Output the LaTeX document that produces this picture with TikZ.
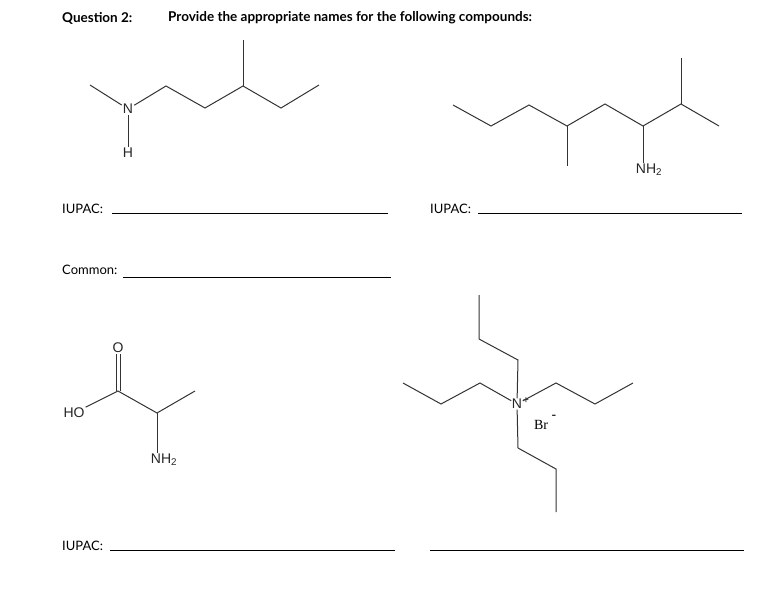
\documentclass[tikz,border=0pt]{standalone}
\usepackage{fontspec}
\setmainfont{Lato}
\newfontfamily\atomf{Liberation Sans}
\newfontfamily\brf{Liberation Serif}
\begin{document}
\begin{tikzpicture}[x=1pt,y=-1pt,
  bond/.style={line width=1pt,draw=black!80},
  lbl/.style={font=\fontsize{13}{15}\selectfont,anchor=west,inner sep=0pt},
  atom/.style={font=\atomf\fontsize{14}{16}\selectfont,inner sep=1pt,text=black!85},
  ans/.style={line width=0.8pt}]
\useasboundingbox (0,0) rectangle (777,589);
\node[lbl,font=\bfseries\fontsize{13.5}{16}\selectfont] (q) at (62,18) {Question 2:};
\node[lbl,font=\bfseries\fontsize{13.5}{16}\selectfont] (p) at (168,18) {Provide the appropriate names for the following compounds:};
% molecule 1
\node[atom] (n1) at (128,109) {N};
\node[atom] (h1) at (128,153) {H};
\coordinate (m0) at (90,85);
\coordinate (a1) at (166,86); \coordinate (a2) at (205,108); \coordinate (a3) at (243,86);
\coordinate (a3t) at (243,40); \coordinate (a4) at (281,108); \coordinate (a5) at (319,85);
\draw[bond] (m0) -- (n1) -- (a1) -- (a2) -- (a3) -- (a4) -- (a5);
\draw[bond] (a3) -- (a3t);
\draw[bond] (n1) -- (h1);
% molecule 2
\coordinate (b0) at (453,105); \coordinate (b1) at (491,126); \coordinate (b2) at (529,105);
\coordinate (b3) at (567,126); \coordinate (b3d) at (567,166); \coordinate (b4) at (605,104);
\coordinate (b5) at (643,126); \coordinate (b6) at (681,104); \coordinate (b6u) at (681,58);
\coordinate (b7) at (719,126);
\node[atom] (nh2b) at (649,170) {NH\textsubscript{2}};
\draw[bond] (b0) -- (b1) -- (b2) -- (b3) -- (b4) -- (b5) -- (b6) -- (b7);
\draw[bond] (b3) -- (b3d); \draw[bond] (b6) -- (b6u);
\draw[bond] (b5) -- (b5 |- nh2b.north);
% answer lines
\node[lbl] (i1) at (62,209) {IUPAC:}; \draw[ans] (112,213) -- (388,213);
\node[lbl] (i2) at (430,209) {IUPAC:}; \draw[ans] (478,213) -- (742,213);
\node[lbl] (c1) at (62,270) {Common:}; \draw[ans] (123,277) -- (391,277);
\node[lbl] (i3) at (62,546) {IUPAC:}; \draw[ans] (110,550) -- (395,550);
\draw[ans] (430,550) -- (744,550);
% molecule 3
\node[atom] (o3) at (118,348) {O};
\node[atom] (ho) at (74,413) {HO};
\node[atom] (nh3) at (164,460) {NH\textsubscript{2}};
\coordinate (c3) at (118,391); \coordinate (ca) at (157,413); \coordinate (cm) at (195,391);
\draw[bond] (ho) -- (c3) -- (ca) -- (cm);
\draw[bond] (ca) -- (ca |- nh3.north);
\draw[bond] ([xshift=-2pt]c3) -- ([xshift=-2pt]o3.south);
\draw[bond] ([xshift=2pt]c3) -- ([xshift=2pt]o3.south);
% molecule 4
\node[atom,inner sep=0.5pt] (n4) at (517,404) {N};
\node[font=\atomf\fontsize{10}{10}\selectfont,inner sep=0pt] (pl) at (526,401) {+};
\node[font=\brf\fontsize{14}{16}\selectfont,inner sep=0pt] (br) at (541,425) {Br};
\node[font=\atomf\fontsize{14}{14}\selectfont,inner sep=0pt] (mi) at (554,417) {-};
\coordinate (t1) at (518,360); \coordinate (t2) at (479,339); \coordinate (t3) at (479,295);
\coordinate (l1) at (480,383); \coordinate (l2) at (441,404); \coordinate (l3) at (403,383);
\coordinate (r1) at (556,383); \coordinate (r2) at (595,404); \coordinate (r3) at (633,383);
\coordinate (d1) at (518,448); \coordinate (d2) at (556,469); \coordinate (d3) at (556,512);
\draw[bond] (n4) -- (t1) -- (t2) -- (t3);
\draw[bond] (n4) -- (l1) -- (l2) -- (l3);
\draw[bond] (n4) -- (r1) -- (r2) -- (r3);
\draw[bond] (n4) -- (d1) -- (d2) -- (d3);
\end{tikzpicture}
\end{document}
